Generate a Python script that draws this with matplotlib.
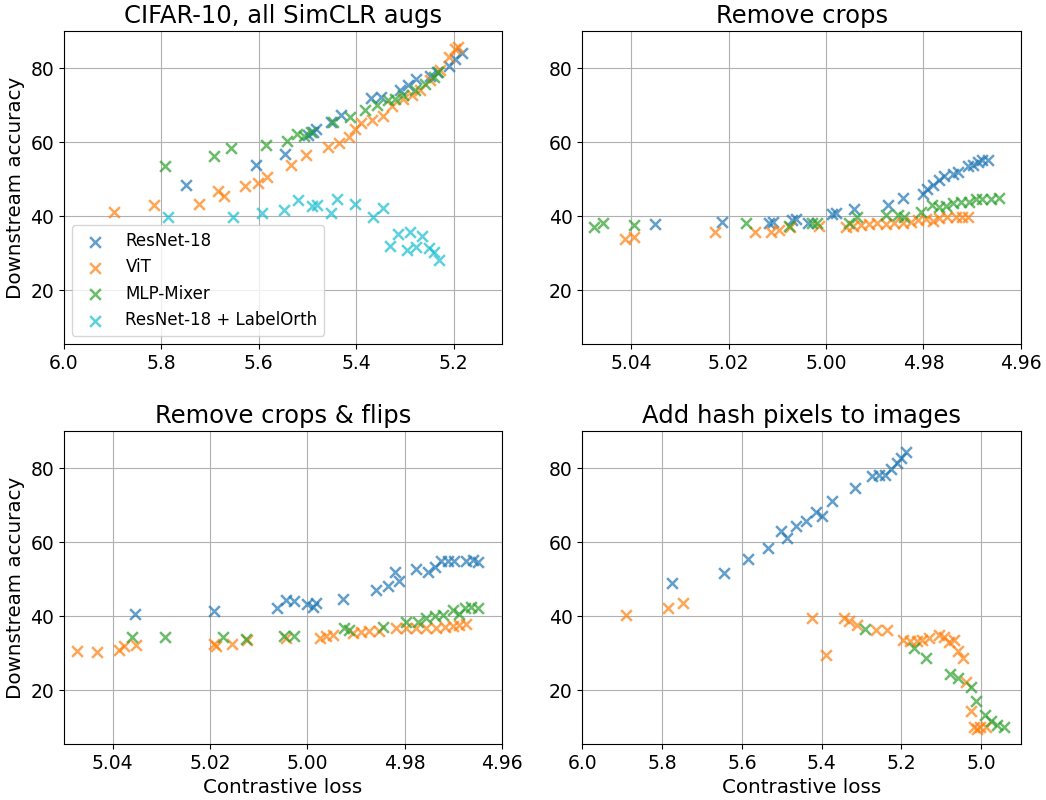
import matplotlib.pyplot as plt
import numpy as np

plt.rcParams['font.family'] = ['DejaVu Sans']
plt.rcParams['font.size'] = 13.5

# ---- panel 1: CIFAR-10, all SimCLR augs ----
p1_resnet_x = [5.75, 5.605, 5.546, 5.499, 5.489, 5.482, 5.451, 5.431, 5.37, 5.348, 5.31, 5.293,
               5.276, 5.248, 5.234, 5.21, 5.197, 5.183]
p1_resnet_y = [48.5, 53.9, 56.9, 62.0, 62.9, 63.6, 65.5, 67.3, 72.0, 72.2, 74.0, 75.4,
               77.1, 77.8, 78.9, 80.7, 82.5, 84.0]
p1_vit_x = [5.896, 5.815, 5.722, 5.683, 5.672, 5.629, 5.602, 5.583, 5.533, 5.502, 5.458, 5.435,
            5.414, 5.403, 5.389, 5.368, 5.345, 5.326, 5.303, 5.286, 5.269, 5.248, 5.228, 5.21,
            5.197, 5.19]
p1_vit_y = [41.3, 43.0, 43.3, 46.9, 45.6, 48.3, 48.9, 50.5, 53.9, 56.6, 58.7, 59.7,
            61.5, 63.5, 65.3, 66.0, 67.1, 69.7, 71.8, 72.7, 74.0, 76.7, 79.4, 82.9,
            85.2, 85.8]
p1_mixer_x = [5.792, 5.691, 5.657, 5.585, 5.542, 5.522, 5.506, 5.492, 5.447, 5.413, 5.382, 5.358,
              5.334, 5.32, 5.303, 5.279, 5.258, 5.241, 5.231]
p1_mixer_y = [53.7, 56.3, 58.4, 59.3, 60.4, 62.2, 61.7, 62.7, 65.5, 66.7, 68.8, 70.0,
              71.3, 71.8, 72.7, 74.0, 75.8, 77.6, 78.9]
p1_orth_x = [5.786, 5.652, 5.594, 5.547, 5.52, 5.491, 5.48, 5.451, 5.44, 5.402, 5.365, 5.344,
             5.33, 5.313, 5.296, 5.289, 5.277, 5.265, 5.251, 5.24, 5.229]
p1_orth_y = [39.9, 39.7, 40.8, 41.7, 44.5, 42.7, 43.0, 40.8, 44.7, 43.3, 39.7, 42.2,
             32.1, 35.1, 30.9, 35.9, 31.7, 34.8, 31.4, 30.5, 28.3]

# ---- panel 2: Remove crops ----
p2_resnet_x = [5.0351, 5.0213, 5.0117, 5.0109, 5.0069, 5.0061, 5.0038, 4.9987, 4.998, 4.9942,
               4.9872, 4.9843, 4.98, 4.9792, 4.978, 4.9768, 4.9758, 4.974, 4.973, 4.9709,
               4.9699, 4.9689, 4.9679, 4.9668]
p2_resnet_y = [37.8, 38.4, 38.1, 38.6, 39.0, 39.3, 38.1, 40.5, 40.8, 41.9,
               43.1, 44.9, 46.0, 47.3, 48.5, 49.9, 50.8, 51.5, 52.1, 53.7,
               53.9, 54.6, 55.1, 55.3]
p2_vit_x = [5.0412, 5.0395, 5.0227, 5.0145, 5.0114, 5.0097, 5.0073, 5.0014, 4.996, 4.9945,
            4.9929, 4.9912, 4.9895, 4.9877, 4.986, 4.9843, 4.9826, 4.9812, 4.9795, 4.9781,
            4.9768, 4.9751, 4.9733, 4.972, 4.9709]
p2_vit_y = [34.0, 34.5, 35.7, 35.8, 35.8, 36.3, 37.0, 37.4, 37.0, 37.4,
            37.6, 37.9, 38.1, 37.9, 38.1, 38.3, 38.6, 39.0, 39.2, 38.8,
            39.5, 39.7, 39.9, 39.7, 39.9]
p2_mixer_x = [5.0477, 5.0458, 5.0395, 5.0165, 5.0076, 5.0028, 5.0018, 4.9953, 4.9936, 4.9877,
              4.9853, 4.984, 4.9805, 4.9782, 4.9768, 4.9754, 4.974, 4.9723, 4.9706, 4.9692,
              4.9679, 4.9662, 4.9644]
p2_mixer_y = [37.2, 38.1, 37.6, 38.1, 37.4, 38.3, 38.1, 38.3, 39.9, 40.4,
              40.4, 39.9, 41.3, 43.1, 42.4, 42.8, 43.5, 44.0, 44.0, 44.6,
              44.6, 44.6, 44.9]

# ---- panel 3: Remove crops & flips ----
p3_resnet_x = [5.0353, 5.0191, 5.0063, 5.0044, 5.0027, 5.0001, 4.9989, 4.9982, 4.9927, 4.9859,
               4.9835, 4.9821, 4.9811, 4.9777, 4.9753, 4.9739, 4.9725, 4.9712, 4.9698, 4.9674,
               4.966, 4.965]
p3_resnet_y = [40.5, 41.4, 42.1, 44.3, 44.2, 43.2, 42.5, 43.7, 44.6, 47.1,
               48.2, 51.9, 49.5, 52.8, 52.0, 53.4, 54.8, 54.8, 54.9, 54.8,
               55.2, 54.6]
p3_vit_x = [5.0472, 5.0431, 5.0386, 5.0376, 5.0351, 5.0191, 5.0188, 5.0155, 5.0123, 5.0044,
            4.9975, 4.9962, 4.9948, 4.9907, 4.989, 4.9873, 4.9852, 4.9818, 4.9797, 4.9777,
            4.9756, 4.9736, 4.9718, 4.9701, 4.9688, 4.9674]
p3_vit_y = [30.6, 30.3, 30.8, 31.9, 32.3, 32.6, 32.0, 32.4, 33.5, 34.2,
            34.2, 34.7, 35.0, 35.6, 35.7, 36.0, 36.0, 36.7, 36.7, 36.8,
            36.7, 36.7, 37.1, 37.4, 37.6, 38.0]
p3_mixer_x = [5.036, 5.0292, 5.0174, 5.0126, 5.0049, 5.0027, 4.9924, 4.9914, 4.9845, 4.9797,
              4.9773, 4.9756, 4.9739, 4.9722, 4.9701, 4.9688, 4.9677, 4.9664, 4.965]
p3_mixer_y = [34.4, 34.4, 34.4, 33.9, 34.7, 34.8, 36.7, 36.2, 37.1, 38.5,
              38.5, 39.4, 40.1, 40.3, 41.6, 40.7, 42.3, 42.5, 42.1]

# ---- panel 4: Add hash pixels to images ----
p4_resnet_x = [5.775, 5.644, 5.584, 5.534, 5.501, 5.486, 5.465, 5.44, 5.415, 5.398,
               5.373, 5.315, 5.273, 5.256, 5.241, 5.227, 5.21, 5.2, 5.189]
p4_resnet_y = [49.1, 51.8, 55.5, 58.3, 63.1, 61.0, 64.4, 65.7, 68.1, 67.1,
               71.2, 74.6, 77.9, 78.2, 78.2, 79.8, 81.4, 82.7, 84.3]
p4_vit_x = [5.892, 5.785, 5.747, 5.425, 5.39, 5.344, 5.331, 5.31, 5.264, 5.235,
            5.197, 5.177, 5.16, 5.147, 5.131, 5.105, 5.093, 5.08, 5.068, 5.059,
            5.045, 5.037, 5.026, 5.018, 5.009, 5.003, 4.988]
p4_vit_y = [40.3, 42.1, 43.7, 39.6, 29.6, 39.4, 38.7, 37.6, 36.4, 36.4,
            33.5, 33.2, 33.2, 33.5, 34.0, 34.9, 34.4, 33.1, 33.5, 30.5,
            28.7, 22.2, 14.4, 10.1, 9.6, 10.1, 10.1]
p4_mixer_x = [5.29, 5.168, 5.137, 5.079, 5.059, 5.026, 5.012, 4.99, 4.976, 4.959, 4.942]
p4_mixer_y = [36.5, 31.3, 28.7, 24.5, 23.3, 20.9, 17.0, 13.4, 11.6, 10.7, 10.1]

titles = ['CIFAR-10, all SimCLR augs', 'Remove crops', 'Remove crops & flips',
          'Add hash pixels to images']
names = ['ResNet-18', 'ViT', 'MLP-Mixer', 'ResNet-18 + LabelOrth']
colors = ['C0', 'C1', 'C2', 'C9']

panels = [
    [(p1_resnet_x, p1_resnet_y), (p1_vit_x, p1_vit_y), (p1_mixer_x, p1_mixer_y), (p1_orth_x, p1_orth_y)],
    [(p2_resnet_x, p2_resnet_y), (p2_vit_x, p2_vit_y), (p2_mixer_x, p2_mixer_y)],
    [(p3_resnet_x, p3_resnet_y), (p3_vit_x, p3_vit_y), (p3_mixer_x, p3_mixer_y)],
    [(p4_resnet_x, p4_resnet_y), (p4_vit_x, p4_vit_y), (p4_mixer_x, p4_mixer_y)],
]
xlims = [(6.0, 5.1), (5.05, 4.96), (5.05, 4.96), (6.0, 4.9)]

fig, axes = plt.subplots(2, 2, figsize=(10.46, 8), dpi=100)
fig.subplots_adjust(left=0.061, right=0.976, top=0.961, bottom=0.07, wspace=0.183, hspace=0.278)

for i, ax in enumerate(axes.flat):
    for j, (xs, ys) in enumerate(panels[i]):
        ax.scatter(xs, ys, marker='x', s=60, linewidths=1.8, color=colors[j], alpha=0.7,
                   label=names[j], zorder=3)
    ax.set_xlim(*xlims[i])
    ax.set_ylim(5.5, 90)
    ax.set_yticks([20, 40, 60, 80])
    ax.grid(True, zorder=0)
    ax.set_axisbelow(True)
    ax.set_title(titles[i], fontsize=17.5)

axes[0, 0].set_ylabel('Downstream accuracy', fontsize=14.3)
axes[1, 0].set_ylabel('Downstream accuracy', fontsize=14.3)
axes[1, 0].set_xlabel('Contrastive loss', fontsize=14.3)
axes[1, 1].set_xlabel('Contrastive loss', fontsize=14.3)
axes[0, 0].legend(loc='lower left', fontsize=12)

plt.savefig('out.png', dpi=100)
